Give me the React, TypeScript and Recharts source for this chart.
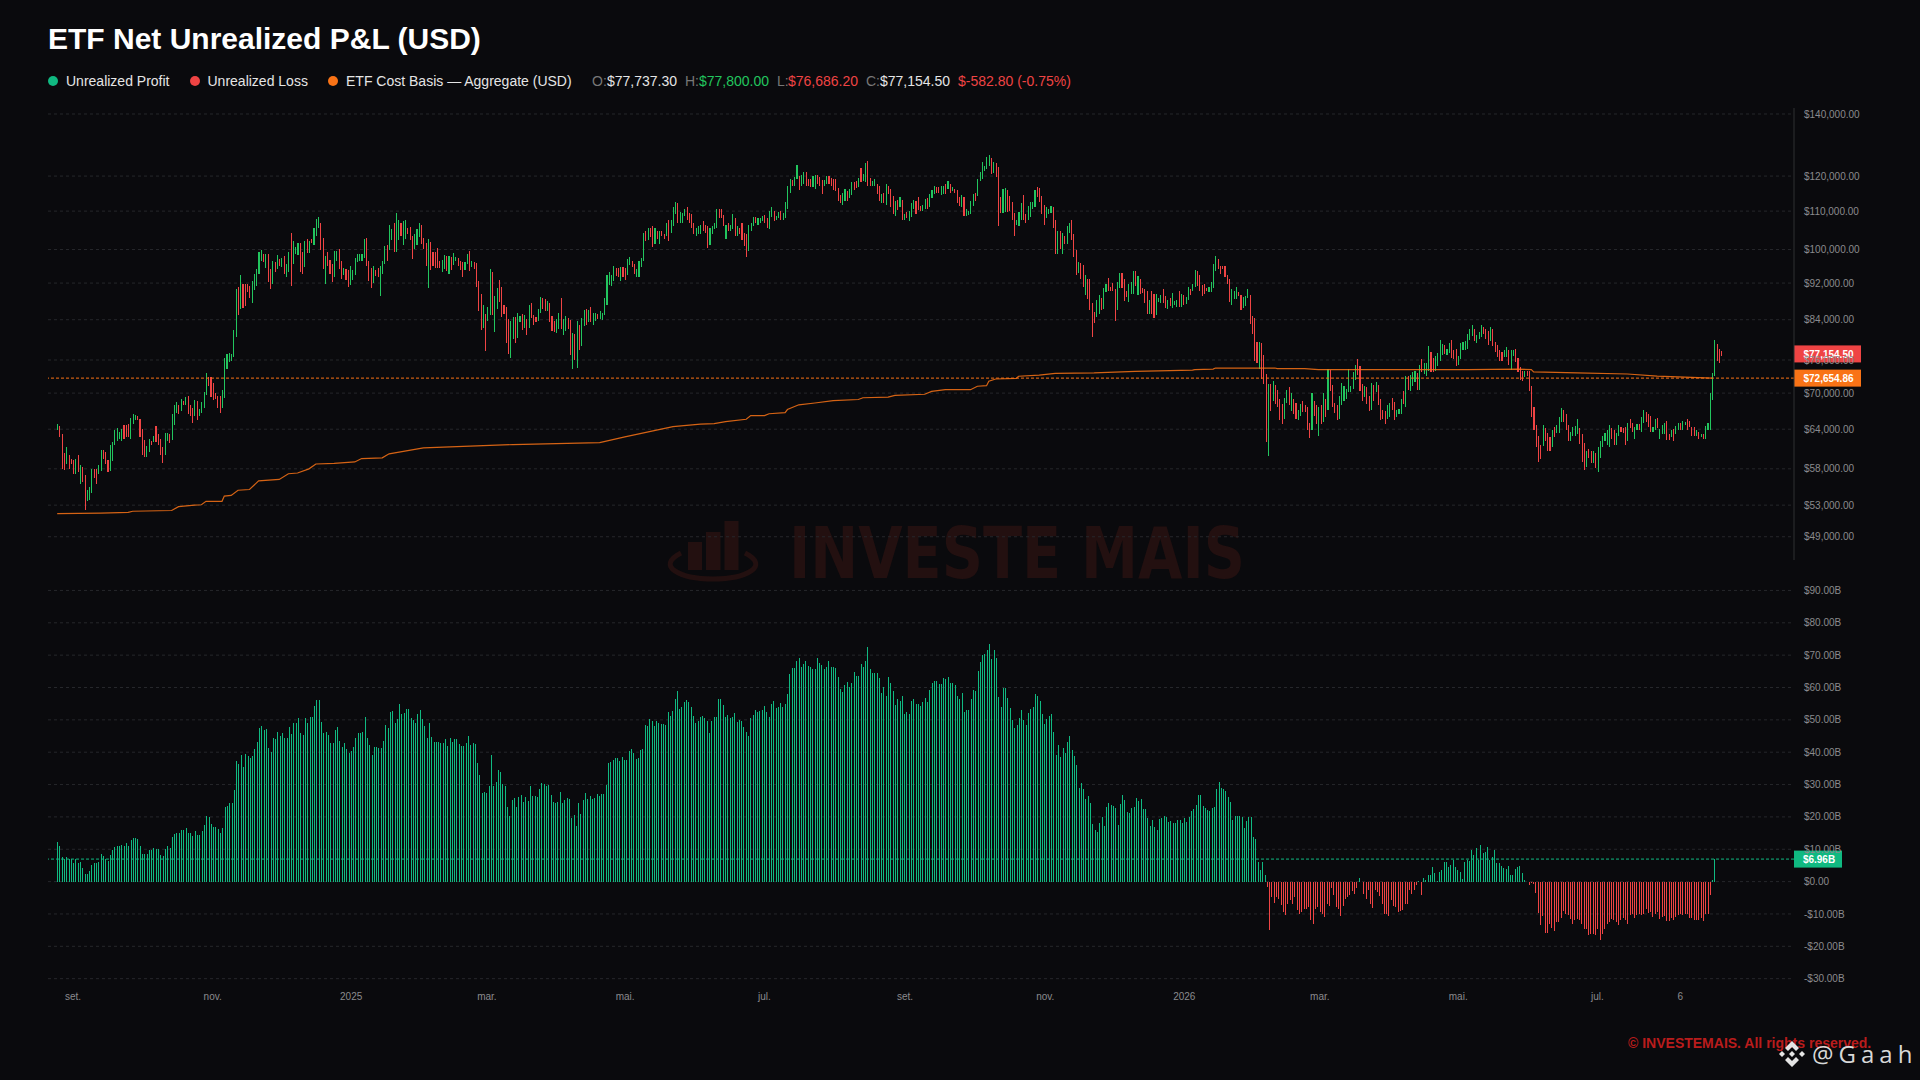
import React from 'react';
import {
  ComposedChart,
  Bar,
  Line,
  Cell,
  XAxis,
  YAxis,
  CartesianGrid,
  ReferenceLine,
} from 'recharts';

// visible candle segments, in $k: open,close pairs
const candlesA = [
  63.8,64.9, 64.5,62.75, 63.25,58, 60.3,57.9, 58.7,61.2, 60,58, 59.5,58.7, 59.3,57.3, 57.2,59.5, 60,57.5,
  55.8,58.6, 58.3,56.1, 57.1,52.4, 53.6,55, 53.7,55.4, 54.6,58, 58,56.7, 58,55.8, 57.2,58.6, 57.7,60.8,
  60.8,59.5, 60.5,58.7, 59.3,57.5, 57.7,61.5, 59.2,62, 61.5,63.9, 62.2,64.2, 62.5,63.6, 62.2,64.1, 64.7,62.5,
  64.7,62.7, 64.8,62.7, 62.4,65.8, 64.8,66.5, 65.4,66.3, 66.1,65.4, 65.6,62.7, 64,60.1, 62.3,59.8, 59.8,61.4,
  60.5,62.4, 62.1,61.6, 62,62.9, 64.5,62, 63.2,61.5, 62.4,60.1, 61.2,58.9, 60,63.4, 62.2,63.4, 63.2,61.8,
  62.3,66.5, 64.7,68, 66.7,68.4, 68,66.5, 67,69, 68.7,67.9, 68,69.4, 69.5,66.5, 67.9,66.2, 67.5,65,
  66.2,68.8, 68.7,65.4, 66.2,67.3, 66.7,68.4, 67.4,70.2, 69.6,73.6, 72.8,71.3, 72.8,69.4, 71.7,68.8, 70,69,
  69.5,67.5, 69.5,66.7, 67.5,70.5, 69.1,76.4, 74.4,77.1, 75.6,77.4, 75.8,77.1, 76.5,81.8, 80.5,90.6, 91,85,
  86.2,93.9, 91.8,86.5, 91.8,87, 91.8,90, 91.3,88.6, 87.6,92.4, 90.5,94.2, 91.4,95.2, 94,99.4, 97.3,99.8,
  99,97, 95.6,98.8, 99,92.2, 95.2,90.7, 91.8,97.2, 96.9,94.5, 95.2,98.7, 97.6,96, 95.7,97.9, 98.4,94,
  93.5,96.4, 94.6,99.3, 104.2,91.4, 96.4,102.1, 98.9,100.7, 98.6,101.6, 101.6,94.5, 99.4,94, 95.8,102.1, 102.6,99.2,
  99.2,102.1, 102.6,101.7, 101.1,105.5, 103.4,107.9, 105.5,108.4, 106.7,99.9, 102.9,95.3, 91.9,98.4, 99.5,96, 97.5,94,
  96.5,92.2, 93.3,99.6, 97.3,99.6, 100,95.2, 97.3,93, 93.8,95.6, 95.2,92.6, 95,91.2, 91.6,96.1, 92.6,95,
  93.9,97.8, 97,99, 97.2,98.8, 97.3,98.8, 97.8,102.6, 102.9,96.1, 97.3,92.4, 95.4,90.9, 92.1,96, 95,93.7,
  95.4,93.5, 89,96, 94.2,97.3, 96.5,100.9, 101.1,97.2, 99.9,106.2,
];

const candlesB = [
  102.3,105.1, 106.7,99.4, 99.4,109.5, 102.3,107.5, 106.7,103.3, 101.1,107.2, 102.6,107.5, 105.5,104, 105.8,102.5, 103.5,97.7,
  100.1,104, 101.1,105.1, 103.2,106.7, 106.4,101.4, 103,100.1, 101.7,96, 90.9,102.7, 101.9,95, 99.5,96, 99.5,95.6,
  100.3,95.6, 97.2,95.6, 94.6,97.4, 95.3,98.6, 98.5,94.8, 94.1,98.4, 98.1,95, 96.2,99.1, 97.2,98.1, 97.9,96,
  97.1,95, 96.9,93.3, 95,96.9, 96.4,98.9, 99.6,94.8, 95.8,97.2, 96.9,95.3, 96.7,91.1, 92.5,85.8, 89.6,81.9,
  82.3,87.1, 85.2,77.8, 83.7,86.7, 84.9,95.3, 94.6,84.9, 81.5,89, 86.2,90.9, 92.7,87.7, 91.1,84.5, 87.1,85.2,
  86.7,79.3, 84.1,77.2, 76.4,83.7, 80,84.5, 84.5,79.3, 80.2,85.4, 83.5,84.7, 85.2,81.9, 82.3,84.9, 84.1,80.8,
  82.3,87.1, 87.5,84.3, 84.9,83, 84.5,83.5, 83.7,86.2, 85.4,88.8, 88.6,86.2, 88.4,85.8, 85.8,87.9, 87.5,83.5,
  84.7,81.7, 83.7,81.5, 81.3,84.1, 82.1,85.5, 88.6,82.1, 80.8,84.1, 81.7,84.7, 84.3,82.1, 83.9,76.9, 74.3,81.2,
  81,76, 74.5,83.7, 82.9,78, 78.6,84.3, 82.7,86, 86.2,82.9, 83.5,86, 86.7,83.5, 83,85.5, 83.7,85.5,
  85.2,84.1, 84.1,85.8, 83.9,85.4, 84.9,88.6, 87.1,93.9, 91.6,94.6, 91.4,93.9, 92.5,96, 95.6,93.7, 95.6,93.5,
  92.5,95.8, 95.8,93.5, 95.6,92.7, 93.9,97.7, 96.2,98.1, 97.2,95.8, 96.4,94.2, 93.5,95.3, 93.3,97.2, 95.8,97.9,
  97.1,104.3, 104.6,102.2, 102.5,105.4, 105.4,103.2, 106.1,100.6, 101.4,105.4, 104.6,102.7, 101.4,104.6, 104.8,103.3, 104,102.7,
  103.3,106.9, 107.5,102.2, 104.3,107.7, 106.1,111, 109.3,112.4, 112.1,106.9, 106.9,109.8, 106.7,109.6, 108.8,110.7, 111,107.5,
  109.6,106.9, 109.3,105.4, 106.7,103.8, 103.3,105.4, 103.8,106.1, 103.8,106.4, 107.2,104.8, 106.4,104.3, 106.1,100.4, 101.1,105.6,
  104,106.1, 105.1,106.9, 105.4,110.7, 110.7,108.2, 110.7,108, 109,105.9, 102.7,106.4, 106.7,104.6, 104.6,106.4,
];

const candlesC = [
  105.1,109.3, 108,103.5, 103.5,105.9, 105.6,104, 106.9,102.5, 104.3,100.9, 103.8,98.2, 99.6,106.4, 104.8,106.7, 105.9,108.5,
  108.5,106.7, 106.4,108, 106.9,108, 107.2,108.8, 109,106.7, 108,105.4, 105.1,110.1, 108.5,111, 110.1,107.2, 107.7,108.8,
  108,109.8, 110.1,107.5, 107.5,109.6, 108.2,112.4, 110.7,117.2, 115.2,119.2, 118.7,117, 117.2,119.8, 119,123.4, 120.1,115.8,
  117,120.4, 117.6,121.3, 121.3,117, 119,117.2, 119.2,116.7, 116.7,120.1, 116.1,120.4, 120.4,117.8, 119.8,117.2, 118.7,114.7,
  117.2,118.7, 117.8,120.1, 120.1,117.6, 119.5,117, 119,115.8, 119.2,115.5, 116.4,112.7, 114.4,112.1, 111.8,115.2, 112.7,116.1,
  115.5,112.7, 113.5,116.1, 114.4,118.1, 118.1,115.8, 118.4,116.4, 116.7,119.5, 122.4,118.1, 118.4,120.7, 118.1,123.9, 124.5,117.2,
  119.5,117, 117.2,118.4, 117.2,119, 117.8,114.7, 117.2,112.7, 112.1,114.9, 115.2,112.1, 111.8,117.8, 117.2,114.7, 116.1,111,
  114.1,109.3, 108.8,112.7, 113,110.4, 111,113.8, 113,107.5, 107.5,109.3, 109.8,108, 107.2,110.1, 108.5,112.1, 110.7,113,
  112.7,109.3, 113.8,110.4, 111.5,110.1, 110.1,111.8, 110.7,113.3, 113.5,110.7, 111,114.7, 113.5,115.8, 114.9,117.2, 116.7,115.2,
  116.7,115.2, 114.4,117.2, 114.9,117.2, 117.6,114.7, 116.1,118.4, 117.8,115.2, 115.5,116.7, 116.1,115.2, 115.8,112.1, 113.8,111.5,
  111.2,114.4, 113.8,108.8, 108.8,110.7, 109,110.1, 109.3,112.7, 111.5,114.9, 115.2,112.7, 114.1,119, 118.4,121.3, 119.2,124.2,
  121.6,123, 122.1,125.7, 123,126.5, 125.4,120.7, 121,124.2, 123.9,119.8, 122.8,105.9, 113.8,109.6, 109.6,116.1, 109.8,116.4,
  115.8,109.8, 114.1,110.1, 112.4,107.5, 109.6,103.5, 106.4,107.7, 106.1,109.8, 107.5,112.1, 114.4,107.5, 109.3,106.7, 107.5,111.5,
  108.5,112.4, 110.7,112.4, 111.2,115.8, 116.7,113.8, 116.4,112.4, 114.1,109.3, 111.8,106.4, 108.2,111.2, 109.3,110.7, 109.6,111.5,
  111,105.4, 107.5,98.9, 98.9,104.8, 104.6,100.1, 99,104.3, 103.5,101.4, 101.4,105.9, 104.3,106.9, 107.7,102.5,
];

const candlesD = [
  104,98.2, 99.8,93.8, 94.3,97, 96.8,92.9, 96.3,91, 89.3,93.8, 93,88.4, 93,86, 87.5,80.5, 85.6,83.3,
  84.5,88.2, 85.2,89.3, 88.6,86, 86.2,90.8, 89.9,91.9, 93.2,90.1, 91.2,90.1, 92,90.1, 90.6,83.7, 86,92.3,
  90.8,94.4, 94.4,90.8, 93,88, 90.3,88.8, 87.8,91.9, 89.5,92.3, 89.5,94.9, 94.7,91.4, 89.3,93.7, 93,89.5,
  90.8,89.7, 90.6,87.5, 90.1,85.2, 85.2,88.2, 90.3,85.2, 89.5,84.3, 84.9,89.5, 87.8,88.6, 87.5,89.3, 90.6,87.5,
  89,86.4, 86.2,88.2, 88.6,86.9, 86.4,89.7, 87.2,88, 86.7,88.2, 90.3,86.7, 86.7,89.5, 89.3,87.2, 87.3,88.8,
  88.2,91, 90.6,89.3, 90.3,91.9, 91,95, 94.7,91.4, 93.9,90.1, 91.6,89, 91.9,89.5, 90.8,90.1, 89.9,91.2,
  89.9,92.3, 90.8,96.4, 94.7,98.3, 97.6,95.2, 96.1,94.2, 95.9,95.2, 95.9,93.5, 93.9,91.9, 93,87.8, 87.1,90.6,
  88.4,90.3, 88.4,91.2, 89.9,89, 89.3,86, 86.4,88.8, 86.9,89, 88.6,90.6, 89.3,83.1, 84.7,81.1, 84.3,75.9,
  79.5,75.5, 74.4,79.5, 79.3,72.5, 76.9,71.6, 73.4,62, 59.9,71.6, 71.6,67, 68.7,72.2, 71.5,68.2, 70.6,67.7,
  69,65.5, 68.2,64.8, 65.7,69.2, 68.3,70.6, 71,67.9, 67,70.1, 69,66.4, 68.3,65.7, 65.5,67.1, 66.2,68.2,
  68.7,66.8, 68,66.8, 67.6,63.8, 65,62.6, 63.8,70.1, 68.7,66.2, 68,64.8, 63,67.7, 68,64.8, 65.1,70.1,
  69,65.9, 67.1,74.3, 74.1,70.4, 71.5,67.7, 68.3,66.6, 68,65.5, 65.7,69.5, 68,71.8, 68.7,71.3, 68.9,70.8,
  70.2,74.3, 70.2,71.3, 70.8,73.7, 72.3,75, 76.1,73.3, 74.8,70.4, 71.6,68.7, 69.4,71.3, 71.1,68.2, 69.5,67,
  67.1,71.8, 71.5,68.7, 70.2,72, 71.5,67.9, 69,65.4, 67.1,65.7, 67,64.8, 65.7,68, 65.9,68.3, 69.2,67.1,
  68.5,65.5, 65.9,67.1, 66.4,67.3, 66.4,69,
];

const candlesE = [
  70.4,68.1, 67.6,73, 73.1,70.5, 70.3,73.3, 71.3,73.7, 72,73.9, 73.5,70.5, 70.5,75, 76.1,73.7, 73.4,75.5,
  73.1,75.5, 74,78.6, 77.6,73.7, 76.4,73.7, 74,76.8, 74.8,77.4, 75.9,79.8, 77,79, 78.8,77.2, 77,78.2,
  77.4,79.2, 79.8,76.4, 78,76.1, 78.2,74.8, 75.1,76.8, 76.1,79.2, 78,79.4, 78,79.6, 78.2,81, 79.8,82,
  80.6,83, 82,79.6, 79.2,80.8, 80,81.4, 80.4,82.8, 82.4,81, 82,80, 81.6,78.8, 79.6,82.4, 82,78.6,
  79.4,77.6, 78.8,76.6, 78,75.9, 77.6,75.9, 76.6,78, 76.6,78.4, 78,75.1, 74.2,78, 76.8,78, 78.2,75.7,
  76.4,73.8, 74.6,72.4, 74,72.1, 72.9,74, 74,73, 74,70.4, 71.3,65.9, 67.7,63.9, 64.7,61.3, 62.9,59,
  61.5,59.4, 61.4,64.7, 64.2,62.2, 63.4,60.7, 62.8,60.7, 61.3,63.9, 64.4,62.7, 63.4,64.7, 63.4,65.9, 65.2,67.5,
  67.1,65.2, 66.4,63.8, 64.7,62.1, 62.1,63.6, 63,64.4, 63,64.5, 63.2,65.6, 64.2,61.7, 63.2,59, 61.9,57.9,
  58.2,60.7, 60.9,59.6, 60.6,58.8, 58.8,60.7, 60.3,58.1, 57.6,61.3, 59.6,62.2, 61.3,62.9, 62.2,63.4, 61.5,63.9,
  61.3,64.7, 64.2,62.5, 63.8,61.5, 61.6,63.4, 62.9,64.7, 64.4,63.6, 64.2,63.4, 64.4,61.6, 62.1,65, 65.6,64.2,
  65,63.6, 62.4,64.4, 63.9,64.9, 64.9,63.8, 63.6,65.9, 65,67.1, 66.8,65.2, 66.4,64.4, 66.1,63.6, 63.6,64.4,
  63.9,65.6, 65.8,64.2, 62.5,64, 63.2,64.7, 63.2,65, 65.3,62.3, 63.2,62.3, 62.7,63.8, 64,62.2, 63.2,64.5,
  63.9,65, 65,63.9, 63.9,65.3, 64.7,65.1, 65.6,63.9, 65.3,64.4, 64.4,63, 64.4,63, 62.9,63.9, 63.6,62.4,
  62.7,63.2, 63.3,62.5, 62.5,64.5, 63.9,65, 63.9,70, 68.8,73.5, 73,79.8, 79,75.9, 78.2,75.5, 77.8,76.7,
];

// $B per day
const pnlA = [
  12.3,11,7.5,7.1,7.5,7.1,6.9,5.6,7.1,5.9,6.1,4.2,2.4,2.4,3.3,5.2,5.7,5.6,6.2,8.6,7.9,7,6.4,8.2,9.8,10.6,11,11,11.3,11,11.9,11,12.9,13.5,13.5,13.2,11,8.6,8.6,8.6,
  9.8,9.8,10.4,10,10,8.2,7.9,10,11,10.4,13.9,14.7,14.9,14.9,16,16,16.5,15.1,15.1,14.1,15.7,14.3,14.4,15.7,17.5,20.3,20,17.8,16.9,16.9,16.2,15,16.6,23.1,23.4,24.3,24.3,28.4,37.3,36.4,
  39.2,35.5,39.5,38.9,38.2,38.9,41,43.2,47.5,48.1,46.9,47.2,41.3,40.1,44.4,44.1,46.3,45,46,44.4,44.4,47.8,45.7,49,49,50.6,46,45.4,50.6,49,50.9,50.9,54.3,56.2,56.2,49.4,46,46.3,45.4,42.9,
  42.9,46.9,47.8,43.5,41.6,42.9,41,39.8,40.4,41.6,44.4,46,46,46.3,50.9,44.4,42.3,39.2,41.6,41.6,41.3,41.3,43.5,48.5,47.5,52.5,52.8,49,50.3,54.9,51.9,52.2,53.4,53.4,50.6,50,49,51.9,53.1,50.3,
  48.1,44.4,49,44.7,43.2,43.2,43.2,42.9,42.9,44.1,42,44.4,43.2,44.1,44.1,42.6,42,42,42.9,45,42.3,42.9,42.6,36.7,33,27.4,27.7,27.4,29.6,39.2,29.6,30.8,34.5,33.9,30.2,29.6,23.1,20.3,25.3,25.9,
  23.1,26.2,26.8,24.6,26.2,24.9,29.6,26.5,26.5,26.2,28.7,30.5,30.2,29.6,29.9,26.8,24.6,24.3,24.6,27.7,24.3,25.3,25.9,25.6,19.7,20.6,17.2,24.3,20.9,25.3,27.4,25.6,26.5,25.6,25.9,27.1,26.5,27.1,27.1,29.9,
  36.7,37,37.6,38.2,38.2,37.3,38.6,37.6,37.6,40.4,41,39.8,37.9,38.2,40.7,41,48.5,48.1,50.3,49.7,
];

const pnlB = [
  48.1,49.7,49,48.7,48.7,48.5,52.5,51.2,52.8,56.4,59,53.4,54.1,55.6,56.2,55.6,54.1,51.2,49,49.7,50.9,51.2,50.6,49.7,46,49.7,50.9,50.9,56.4,56.4,54.5,50.9,51.6,50.6,50.9,52.2,49.4,50,49.7,47.8,
  46.3,45,50.6,51.6,53,52.5,52.8,53,54.2,52.5,50.9,54.9,55.9,53.7,54.1,55.3,54.1,54.9,58,64.2,66,66,68.2,69.2,66.4,67.3,68.2,66.7,66.4,65.8,65.8,69.2,67.6,67,65.8,66.4,68.2,66.4,66.4,66,
  63.3,59.6,58.7,60.8,61.7,60.2,61.4,64.8,63.6,63.6,67.3,66.4,68.2,72.6,65.8,64.5,64.5,64.5,63,58.4,60.2,57.4,63.3,61.4,59,54.6,56.5,55.9,57.4,51.9,52.5,51.9,55.9,56.5,54.9,54.9,54.3,55.6,56.8,55.6,
  59.3,61.4,62.1,62.1,61.1,61.1,63,62.7,63.3,61.4,61.4,60.8,57.4,56.5,58.4,52.5,53,53,56.5,59.3,59,65.2,67.9,70.1,70.4,71.6,73.5,68.9,71.6,69.2,57.1,54,59.9,59.9,56.8,53.7,50,47.4,48.4,50.6,
  53,50,48.4,52.2,53.4,54.1,58,57.4,55.9,51.9,48.8,50.4,51.2,51.9,46.3,39.2,42.3,38.6,41.3,39.8,43.2,45,40.7,38.9,36.1,29,30.5,28.7,25.6,26.5,24.3,17.8,16,15.4,18.1,20,17.2,23.1,24.3,23.7,
  23.4,22.8,17.5,24,26.8,25.3,21.5,21.2,22.8,23.1,25.9,24.9,25.6,22.5,22.5,19.7,17.2,19.1,16.9,16,19.4,19.7,20.3,20,18.5,18.8,18.1,18.1,19.1,19.1,18.1,19.7,18.5,20,21.9,22.5,23.7,26.8,26.7,23.4,
  22.8,22.2,21.9,22.8,23.1,28.7,30.8,29,28.7,28,26.2,24.6,19.1,20.3,20.3,20.3,20,16.6,18.8,20,20,13.8,13.2,6.1,3.6,6.1,2.1,-1.6,-15,-4.7,-6.6,-4.7,-5.4,-7.2,-9.4,-10.3,-6.9,-5.7,-6.9,-4.7,
  -8.8,-10,-9.4,-8.5,
];

const pnlC = [
  -8.4,-8,-12,-13.2,-8.4,-7.8,-9.4,-9.9,-11,-6.8,-7.5,-2,-4.2,-7.8,-8.4,-10.6,-7.4,-5.3,-4.7,-4.2,-2.9,-3.7,-1.9,1.2,-0.2,-3.7,-5.4,-2.7,-6.8,-8.1,-2.7,-3.2,-4.5,-7,-10.1,-10.1,-10.6,-5.8,-7.6,-8,
  -9.4,-9.1,-8.9,-6.8,-6.8,-2.5,-3.9,-2.7,-1,0.1,-4.2,1,0.4,1.9,2.1,4.4,2.7,0.1,2.9,3.5,6,6,4.5,5,6.8,4.5,3.5,2.9,0.9,6,6.8,6.3,9.7,8.1,10.3,6.8,11.2,8.7,9.3,10.6,
  6.8,7.6,9.7,5.8,5.6,4.7,4.1,4,4.7,2.1,2.1,4,4.4,4.7,2.7,0.6,-0.1,-1,-0.4,-0.6,-3.5,-9.8,-13.5,-10.7,-15.9,-16,-13,-14.2,-15.3,-12.5,-12.5,-11.4,-9.2,-10.1,-10.4,-11.5,-13.2,-11.8,-11.5,-12,
  -13.2,-14.8,-14.8,-16.5,-16.1,-16.1,-16.6,-14.5,-18.1,-16.1,-14.5,-13.2,-12.5,-11.6,-12,-12.5,-13.5,-11.8,-11.1,-11.8,-13.2,-10.4,-9.9,-11.1,-10.4,-10.1,-10.4,-9.9,-8.4,-9.7,-9.5,-10.9,-9.9,-9.4,-11.5,-10.9,-10.7,-12.2,-12.2,-11.4,
  -11.8,-10.9,-10.4,-9.9,-10.4,-9.9,-10.1,-11.1,-11.3,-11.8,-11.8,-12,-11.1,-12.2,-10.1,-10.1,-4.2,0.4,6.96,
];

// aggregate cost basis, read at day positions where the line changes slope
const costDays = [0,19,31,33,50,53,61,64,66,73,74,77,80,85,89,98,102,106,111,114,122,131,134,143,146,161,201,239,250,271,283,289,294,304,306,312,314,321,322,327,334,342,353,355,366,369,382,385,391,402,405,409,410,413,423,424,433,440,457,475,500,501,509,510,536,537,550,556,568,593,621,643,649,650,670,692,705,729];
const costValues = [51.9,51.95,52.05,52.2,52.3,52.8,53,53.05,53.5,53.5,54.2,54.3,55,55.1,56.3,56.5,57.3,57.4,58,58.7,58.8,59,59.5,59.6,60.2,61.1,61.6,61.9,62.8,64.4,64.8,64.9,65.2,65.6,66.2,66.2,66.5,66.7,67.2,68,68.3,68.7,68.9,69.2,69.3,69.6,69.8,70.3,70.6,70.6,71.2,71.3,72.1,72.5,72.6,73,73.2,73.5,73.6,73.9,74.1,74.2,74.3,74.5,74.5,74.4,74.4,74.2,74.2,74.2,74.2,74.3,74.2,73.8,73.6,73.4,73,72.65];

const priceTicks = [49000, 53000, 58000, 64000, 70000, 76000, 84000, 92000, 100000, 110000, 120000, 140000];
const pnlTicks = [-30, -20, -10, 0, 10, 20, 30, 40, 50, 60, 70, 80, 90];
const monthLabels = ['set.', 'nov.', '2025', 'mar.', 'mai.', 'jul.', 'set.', 'nov.', '2026', 'mar.', 'mai.', 'jul.', '6'];
const monthDays = [7, 68.5, 129.5, 189.3, 250.2, 311.5, 373.5, 435.3, 496.5, 556.2, 617.2, 678.5, 715];

const BG = '#0a0a0d';
const GRID = '#26272b';
const AXIS_TEXT = '#8a8a8e';
const UP = '#22c55e';
const DOWN = '#ef4444';
const PROFIT = '#10b981';
const ORANGE = '#f97316';
const FONT = '"Liberation Sans", Arial, sans-serif';

const LEFT = 48;
const AXIS_X = 1794;
const FIRST_X = 57.2;
const LAST_CANDLE_X = 1721.3;
const LAST_PNL_X = 1714.6;

const segments = [...candlesA, ...candlesB, ...candlesC, ...candlesD, ...candlesE];
const candleCount = segments.length / 2;
const candleStep = (LAST_CANDLE_X - FIRST_X) / (candleCount - 1);
const dayToCandle = 2.27 / candleStep;

const costByIndex = new Map<number, number>();
costDays.forEach((d, k) => costByIndex.set(Math.round(d * dayToCandle), costValues[k] * 1000));

const candleRows = Array.from({ length: candleCount }, (_, i) => {
  const open = segments[i * 2] * 1000;
  const close = segments[i * 2 + 1] * 1000;
  return {
    i,
    body: [Math.min(open, close), Math.max(open, close)],
    up: close >= open,
    cost: costByIndex.get(i) ?? null,
  };
});

const pnl = [...pnlA, ...pnlB, ...pnlC];
const pnlStep = (LAST_PNL_X - FIRST_X) / (pnl.length - 1);
const pnlRows = pnl.map((v, i) => ({ i, v }));
const monthTicks = monthDays.map((d) => (d * 2.27) / pnlStep);

const domainFor = (step: number): [number, number] => [
  -(FIRST_X - LEFT) / step,
  (AXIS_X - FIRST_X) / step,
];

const priceLabel = (v: number) =>
  `$${v.toLocaleString('en-US', { minimumFractionDigits: 2, maximumFractionDigits: 2 })}`;
const pnlLabel = (v: number) => (v === 0 ? '$0.00' : `${v < 0 ? '-' : ''}$${Math.abs(v).toFixed(2)}B`);

const Tag = ({ viewBox, text, fill, w }: any) => (
  <g>
    <rect x={viewBox.x + viewBox.width} y={viewBox.y - 8.5} width={w} height={17} fill={fill} />
    <text
      x={viewBox.x + viewBox.width + w / 2 + 1}
      y={viewBox.y + 3.6}
      textAnchor="middle"
      fill="#fff"
      fontSize={10}
      fontWeight={700}
      fontFamily={FONT}
    >
      {text}
    </text>
  </g>
);

const Abs = ({ x, y, color, size = 14, weight, children }: any) => (
  <span
    style={{
      position: 'absolute',
      left: x,
      top: y,
      color,
      fontSize: size,
      fontWeight: weight,
      lineHeight: 1,
      whiteSpace: 'nowrap',
    }}
  >
    {children}
  </span>
);

const Dot = ({ x, color }: any) => (
  <span
    style={{
      position: 'absolute',
      left: x,
      top: 76,
      width: 10,
      height: 10,
      borderRadius: 5,
      background: color,
    }}
  />
);

const Watermark = () => (
  <svg width={1920} height={1080} style={{ position: 'absolute', left: 0, top: 0 }}>
    <g fill="#231010">
      <rect x={688} y={542} width={14} height={28} />
      <rect x={706} y={532} width={14.5} height={38} />
      <rect x={724.5} y={521} width={14} height={49} />
      <text
        x={789}
        y={578}
        fontFamily='"Liberation Sans Narrow", "DejaVu Sans Condensed", sans-serif'
        fontWeight={700}
        fontSize={72}
        textLength={456}
        lengthAdjust="spacingAndGlyphs"
      >
        INVESTE MAIS
      </text>
    </g>
    <path d="M 681 553 C 655 566, 680 579, 713 579 C 746 579, 771 566, 745 553" fill="none" stroke="#231010" strokeWidth={5} />
  </svg>
);

const Signature = () => (
  <svg width={1920} height={1080} style={{ position: 'absolute', left: 0, top: 0 }}>
    <text x={1628} y={1048} fill="#b91c1c" fontFamily={FONT} fontWeight={700} fontSize={14}>
      © INVESTEMAIS. All rights reserved.
    </text>
    <g fill="#e5e5e5">
      <path d="M 1792 1041 L 1799 1048 L 1796 1051 L 1792 1047 L 1788 1051 L 1785 1048 Z" />
      <path d="M 1782 1051 L 1785 1054 L 1782 1057 L 1779 1054 Z" />
      <path d="M 1802 1051 L 1805 1054 L 1802 1057 L 1799 1054 Z" />
      <path d="M 1792 1051 L 1795 1054 L 1792 1057 L 1789 1054 Z" />
      <path d="M 1792 1067 L 1785 1060 L 1788 1057 L 1792 1061 L 1796 1057 L 1799 1060 Z" />
    </g>
    <text x={1812} y={1063} fill="#d8d8d8" fontFamily={'"Open Sans", sans-serif'} fontSize={24} letterSpacing={5}>
      @Gaah
    </text>
  </svg>
);

export default function App() {
  return (
    <div
      style={{
        position: 'absolute',
        left: 0,
        top: 0,
        width: 1920,
        height: 1080,
        background: BG,
        overflow: 'hidden',
        fontFamily: FONT,
      }}
    >
      <style>{'.recharts-rectangle { shape-rendering: crispEdges; }'}</style>
      <Watermark />

      <Abs x={48} y={24} color="#fff" size={30} weight={700}>
        ETF Net Unrealized P&amp;L (USD)
      </Abs>

      <Dot x={48} color={PROFIT} />
      <Abs x={66} y={74} color="#e5e5e5">Unrealized Profit</Abs>
      <Dot x={190} color={DOWN} />
      <Abs x={207.5} y={74} color="#e5e5e5">Unrealized Loss</Abs>
      <Dot x={328} color={ORANGE} />
      <Abs x={346} y={74} color="#e5e5e5">ETF Cost Basis — Aggregate (USD)</Abs>

      <Abs x={592} y={74} color="#777">O:</Abs>
      <Abs x={607} y={74} color="#e5e5e5">$77,737.30</Abs>
      <Abs x={685} y={74} color="#777">H:</Abs>
      <Abs x={699} y={74} color={UP}>$77,800.00</Abs>
      <Abs x={777} y={74} color="#777">L:</Abs>
      <Abs x={788} y={74} color={DOWN}>$76,686.20</Abs>
      <Abs x={866} y={74} color="#777">C:</Abs>
      <Abs x={880} y={74} color="#e5e5e5">$77,154.50</Abs>
      <Abs x={958} y={74} color={DOWN}>$-582.80 (-0.75%)</Abs>

      <div style={{ position: 'absolute', left: 0, top: 0 }}>
        <ComposedChart
          width={1920}
          height={600}
          data={candleRows}
          margin={{ top: 108, right: 0, bottom: 40, left: LEFT }}
        >
          <CartesianGrid vertical={false} stroke={GRID} strokeDasharray="3 3" syncWithTicks />
          <XAxis dataKey="i" type="number" domain={domainFor(candleStep)} hide allowDataOverflow />
          <YAxis
            orientation="right"
            type="number"
            scale="log"
            domain={[46250, 142100]}
            ticks={priceTicks}
            interval={0}
            width={126}
            allowDataOverflow
            tickLine={false}
            axisLine={{ stroke: '#2f3033' }}
            tickMargin={4}
            tick={{ fill: AXIS_TEXT, fontSize: 10, fontFamily: FONT, textAnchor: 'start' }}
            tickFormatter={priceLabel}
          />
          <Bar dataKey="body" barSize={1.1} isAnimationActive={false}>
            {candleRows.map((r) => (
              <Cell key={r.i} fill={r.up ? UP : DOWN} />
            ))}
          </Bar>
          <Line
            dataKey="cost"
            stroke={ORANGE}
            strokeOpacity={0.85}
            strokeWidth={1.2}
            dot={false}
            connectNulls
            isAnimationActive={false}
          />
          <ReferenceLine
            y={77154.5}
            stroke="none"
            label={{ content: (p: any) => <Tag viewBox={p.viewBox} text="$77,154.50" fill={DOWN} w={67} /> }}
          />
          <ReferenceLine
            y={72654.86}
            stroke={ORANGE}
            strokeDasharray="3 2"
            label={{ content: (p: any) => <Tag viewBox={p.viewBox} text="$72,654.86" fill={ORANGE} w={67} /> }}
          />
        </ComposedChart>
      </div>

      <div style={{ position: 'absolute', left: 0, top: 570 }}>
        <ComposedChart
          width={1920}
          height={450}
          data={pnlRows}
          margin={{ top: 10, right: 0, bottom: 11, left: LEFT }}
        >
          <CartesianGrid vertical={false} stroke={GRID} strokeDasharray="3 3" syncWithTicks />
          <XAxis
            dataKey="i"
            type="number"
            domain={domainFor(pnlStep)}
            allowDataOverflow
            ticks={monthTicks}
            interval={0}
            height={24}
            tickLine={false}
            axisLine={false}
            tickMargin={2}
            tick={{ fill: AXIS_TEXT, fontSize: 10, fontFamily: FONT }}
            tickFormatter={(_v: number, idx: number) => monthLabels[idx]}
          />
          <YAxis
            orientation="right"
            type="number"
            domain={[-31.96, 93.23]}
            ticks={pnlTicks}
            interval={0}
            width={126}
            allowDataOverflow
            tickLine={false}
            axisLine={false}
            tickMargin={4}
            tick={{ fill: AXIS_TEXT, fontSize: 10, fontFamily: FONT, textAnchor: 'start' }}
            tickFormatter={pnlLabel}
          />
          <Bar dataKey="v" barSize={1} isAnimationActive={false}>
            {pnlRows.map((r) => (
              <Cell key={r.i} fill={r.v >= 0 ? PROFIT : DOWN} />
            ))}
          </Bar>
          <ReferenceLine
            y={6.96}
            stroke={PROFIT}
            strokeDasharray="3 2"
            label={{ content: (p: any) => <Tag viewBox={p.viewBox} text="$6.96B" fill={PROFIT} w={48} /> }}
          />
        </ComposedChart>
      </div>

      <Signature />
    </div>
  );
}
